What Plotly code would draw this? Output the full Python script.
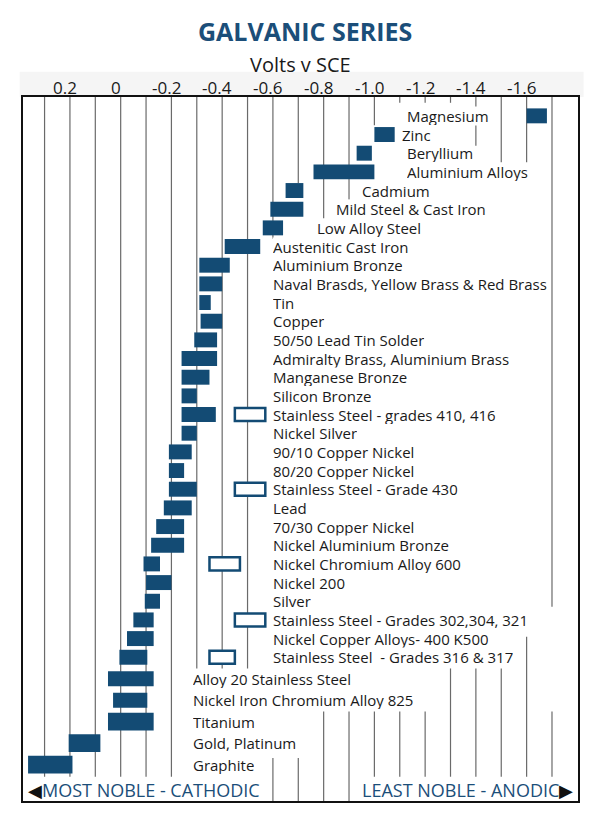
import numpy as np
import plotly.graph_objects as go

# galvanic series, volts v SCE (noble end, active end)
metals = ["Magnesium", "Zinc", "Beryllium", "Aluminium Alloys", "Cadmium",
          "Mild Steel & Cast Iron", "Low Alloy Steel", "Austenitic Cast Iron",
          "Aluminium Bronze", "Naval Brasds, Yellow Brass & Red Brass", "Tin", "Copper",
          "50/50 Lead Tin Solder", "Admiralty Brass, Aluminium Brass", "Manganese Bronze",
          "Silicon Bronze", "Stainless Steel - grades 410, 416", "Nickel Silver",
          "90/10 Copper Nickel", "80/20 Copper Nickel", "Stainless Steel - Grade 430",
          "Lead", "70/30 Copper Nickel", "Nickel Aluminium Bronze",
          "Nickel Chromium Alloy 600", "Nickel 200", "Silver",
          "Stainless Steel - Grades 302,304, 321", "Nickel Copper Alloys- 400 K500",
          "Stainless Steel  - Grades 316 & 317", "Alloy 20 Stainless Steel",
          "Nickel Iron Chromium Alloy 825", "Titanium", "Gold, Platinum", "Graphite"]
noble = [-1.60, -1.00, -0.93, -0.76, -0.65, -0.59, -0.56, -0.41, -0.31, -0.31, -0.31, -0.315,
         -0.29, -0.24, -0.24, -0.24, -0.24, -0.24, -0.19, -0.19, -0.19, -0.17, -0.14, -0.12,
         -0.09, -0.10, -0.095, -0.05, -0.025, 0.005, 0.05, 0.03, 0.05, 0.205, 0.365]
active = [-1.68, -1.08, -0.99, -1.00, -0.72, -0.72, -0.64, -0.55, -0.43, -0.40, -0.355, -0.40,
          -0.38, -0.38, -0.35, -0.30, -0.375, -0.30, -0.28, -0.25, -0.30, -0.28, -0.25, -0.25,
          -0.155, -0.20, -0.155, -0.13, -0.13, -0.105, -0.13, -0.105, -0.13, 0.08, 0.19]

# passive (hollow) ranges for the stainless / nickel chromium alloys
passive_rows = ["Stainless Steel - grades 410, 416", "Stainless Steel - Grade 430",
                "Nickel Chromium Alloy 600", "Stainless Steel - Grades 302,304, 321",
                "Stainless Steel  - Grades 316 & 317"]
passive_noble = [-0.45, -0.45, -0.35, -0.45, -0.35]
passive_active = [-0.57, -0.57, -0.47, -0.57, -0.45]

tick_vals = [0.2, 0, -0.2, -0.4, -0.6, -0.8, -1.0, -1.2, -1.4, -1.6]
tick_text = ["0.2", "0", "-0.2", "-0.4", "-0.6", "-0.8", "-1.0", "-1.2", "-1.4", "-1.6"]

navy = "#134b74"
n = len(metals)
ypos = [i if i <= 29 else 29 + (i - 29) * 1.15 for i in range(n)]
row_of = dict(zip(metals, ypos))
widths = [0.8] * 32 + [0.95] * 3

fig = go.Figure()
fig.add_trace(go.Bar(
    y=ypos, base=noble, x=np.array(active) - np.array(noble), orientation="h",
    width=widths, marker=dict(color=navy, line=dict(width=0)), hoverinfo="skip"))
fig.add_trace(go.Bar(
    y=[row_of[m] for m in passive_rows], base=passive_noble,
    x=np.array(passive_active) - np.array(passive_noble), orientation="h", width=0.7,
    marker=dict(color="white", line=dict(color=navy, width=2.5)), hoverinfo="skip"))

# labels (left edge, volts)
label_x = [-1.123, -1.104, -1.123, -1.123, -0.948, -0.844, -0.771] + [-0.597] * 23 + [-0.282] * 5
annotations = []
for m, lx, y in zip(metals, label_x, ypos):
    annotations.append(dict(x=lx, y=y, xref="x", yref="y", text=m, showarrow=False,
                            xanchor="left", yanchor="middle", bgcolor="white", borderpad=0,
                            height=18, valign="middle",
                            font=dict(family="Open Sans", size=15, color="#1a1a1a")))

# tick labels sit a bit left of their grid line and close to the frame
for v, t in zip(tick_vals, tick_text):
    annotations.append(dict(x=v, y=1.0142, xref="x", yref="paper", text=t, showarrow=False,
                            xanchor="center", yanchor="middle", xshift=-5,
                            font=dict(family="Open Sans", size=17, color="#1a1a1a")))

annotations += [
    dict(x=0.509, y=1.094, xref="paper", yref="paper", text="<b>GALVANIC SERIES</b>",
         xanchor="center", yanchor="middle", showarrow=False,
         font=dict(family="Open Sans", size=25, color="#1b4e79")),
    dict(x=0.5, y=1.046, xref="paper", yref="paper", text="Volts v SCE",
         xanchor="center", yanchor="middle", showarrow=False,
         font=dict(family="Open Sans", size=20, color="#1a1a1a")),
    dict(x=0.006, y=0.0156, xref="paper", yref="paper", xanchor="left", yanchor="middle",
         text="<span style='color:#111'>◀</span>MOST NOBLE - CATHODIC", showarrow=False,
         font=dict(family="Open Sans", size=18, color="#1b4e79")),
    dict(x=0.995, y=0.0156, xref="paper", yref="paper", xanchor="right", yanchor="middle",
         text="LEAST NOBLE - ANODIC<span style='color:#111'>▶</span>", showarrow=False,
         font=dict(family="Open Sans", size=18, color="#1b4e79")),
]

# vertical grid lines, cut where the labels sit
grid_hide = {-0.3: (29.6, None), -0.4: (29.6, None), -0.5: (29.6, None),
             -0.6: (6.6, 34.4), -0.7: (3.6, 34.4), -0.8: (5.5, 31.9), -0.9: (4.5, 31.9),
             -1.0: (0.5, 31.9), -1.1: (-0.7, 31.9), -1.2: (-0.7, 31.9), -1.3: (-0.7, 29.6),
             -1.4: (1.6, 29.6), -1.5: (2.5, 29.6), -1.6: (2.5, 27.9), -1.7: (26.3, 31.9)}
y_top, y_bot = -1.01, 36.7
shapes = [dict(type="rect", xref="paper", yref="paper", x0=-0.006, x1=1.01, y0=1.0, y1=1.036,
               fillcolor="#f5f5f5", line=dict(width=0), layer="below")]
for v in np.round(np.arange(0.3, -1.75, -0.1), 1):
    v = float(v)
    end = y_bot if -0.95 < v < -0.55 else 35.4
    h = grid_hide.get(v)
    segs = [(y_top, end)] if h is None else [(y_top, h[0])] + ([(h[1], end)] if h[1] else [])
    for a, b in segs:
        shapes.append(dict(type="line", xref="x", yref="y", x0=v, x1=v, y0=a, y1=b,
                           line=dict(color="#6a6a6a", width=1.2), layer="below"))

fig.update_layout(
    width=599, height=823, margin=dict(l=23, r=21, t=97, b=22),
    paper_bgcolor="white", plot_bgcolor="white", showlegend=False, barmode="overlay",
    annotations=annotations, shapes=shapes,
    xaxis=dict(range=[0.385, -1.8025], showticklabels=False, ticks="", showgrid=False,
               zeroline=False, showline=True, mirror=True, linecolor="#111", linewidth=2),
    yaxis=dict(range=[y_bot, y_top], showticklabels=False, showgrid=False, zeroline=False,
               showline=True, mirror=True, linecolor="#111", linewidth=2),
)

fig.write_html("out.html", config={"displayModeBar": False},
               post_script="document.body.style.margin='0px';")
